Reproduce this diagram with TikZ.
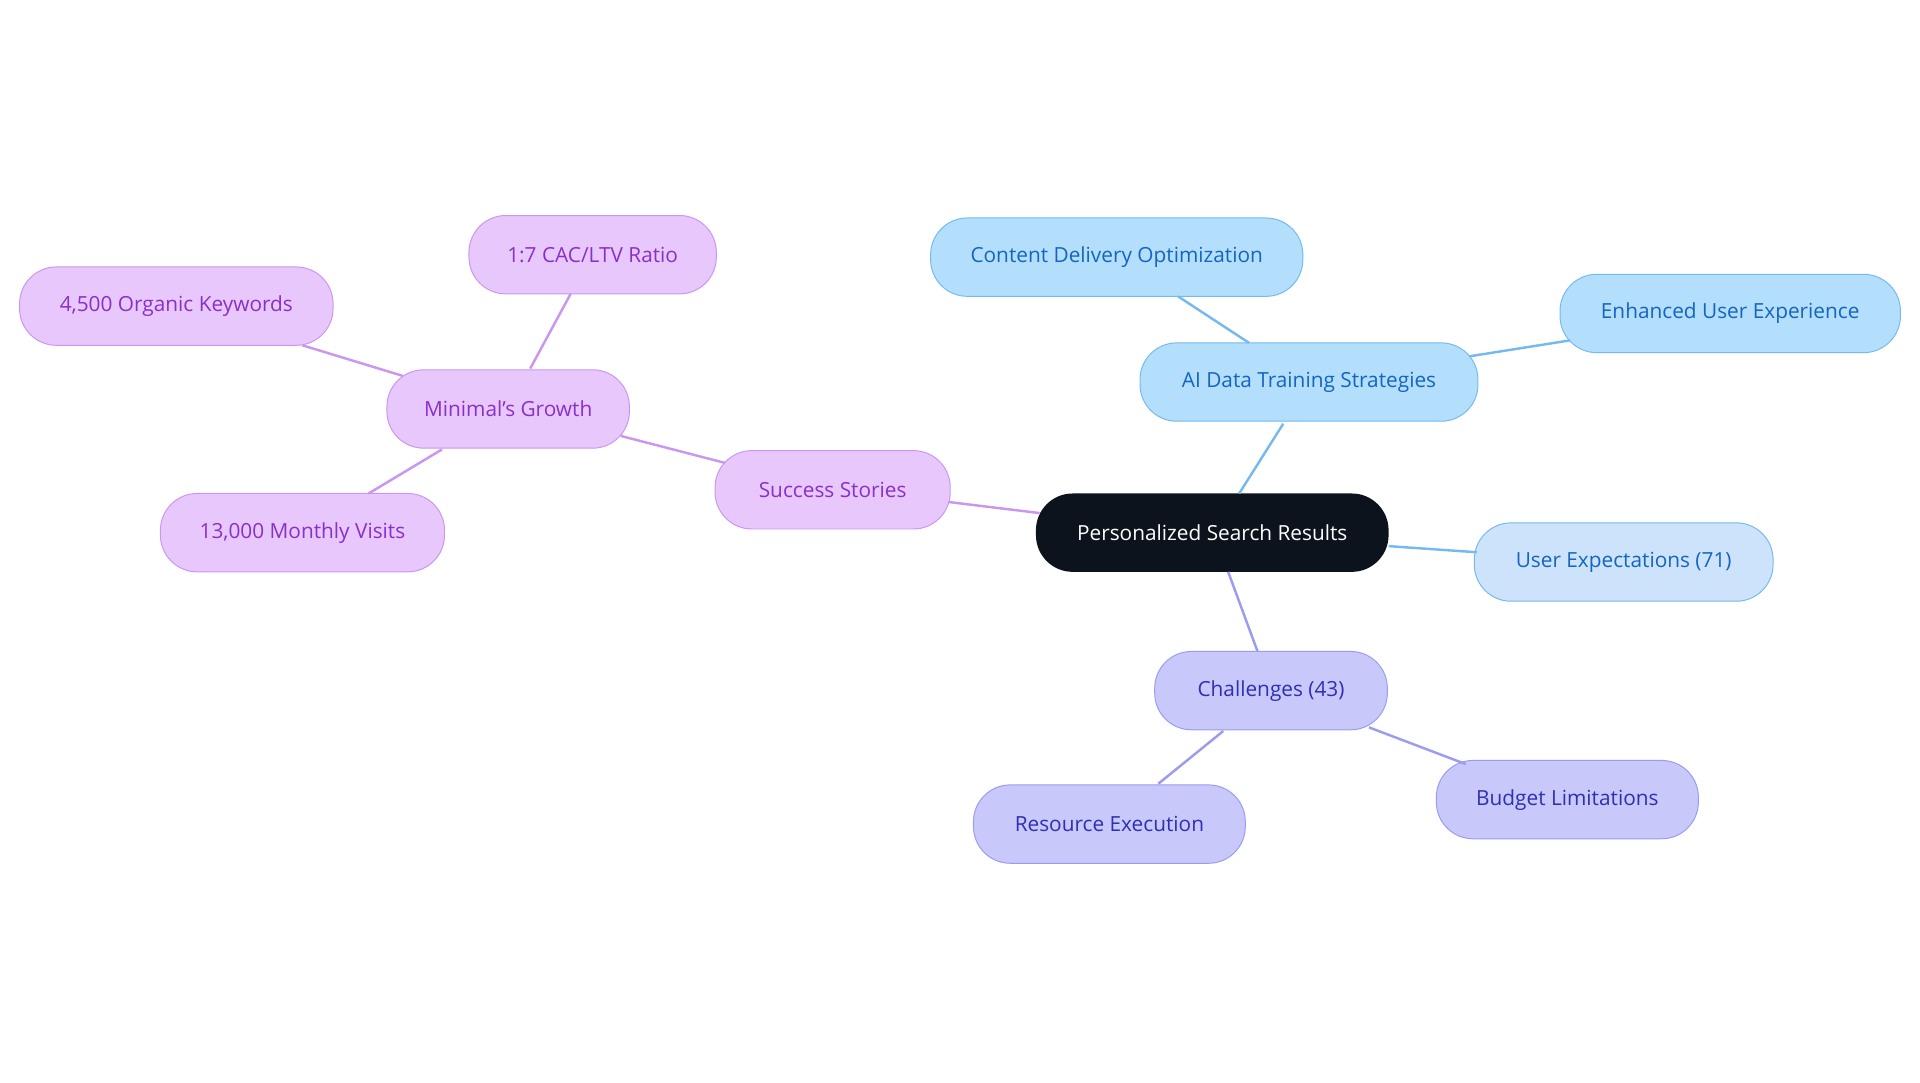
\documentclass[tikz,border=0pt]{standalone}
\usepackage{fontspec}
\setmainfont{Open Sans}
\definecolor{bfill}{HTML}{B3DFFD}\definecolor{bdraw}{HTML}{74BAF0}\definecolor{btext}{HTML}{1565C0}
\definecolor{lfill}{HTML}{CDE3FC}
\definecolor{cfill}{HTML}{C8C8FB}\definecolor{cdraw}{HTML}{9B9BF0}\definecolor{ctext}{HTML}{2F2FB5}
\definecolor{sfill}{HTML}{E8C8FC}\definecolor{sdraw}{HTML}{C996F0}\definecolor{stext}{HTML}{8A2FC9}
\definecolor{dark}{HTML}{0D131C}
\begin{document}
\begin{tikzpicture}[x=1pt,y=-1pt,
 box/.style={rounded corners=30pt,minimum height=64pt,font=\fontsize{17}{20}\selectfont,line width=0.8pt,inner sep=0pt},
 blue/.style={box,fill=bfill,draw=bdraw,text=btext},
 lblue/.style={box,fill=lfill,draw=bdraw,text=btext},
 viol/.style={box,fill=cfill,draw=cdraw,text=ctext},
 purp/.style={box,fill=sfill,draw=sdraw,text=stext},
 be/.style={draw=bdraw,line width=2pt},
 ce/.style={draw=cdraw,line width=2pt},
 se/.style={draw=sdraw,line width=2pt}]
\useasboundingbox (0,0) rectangle (1568,884);
\node[box,fill=dark,text=white,minimum width=288pt] (c) at (990,435) {Personalized Search Results};
\node[blue,minimum width=276pt] (ai) at (1069,312) {AI Data Training Strategies};
\node[blue,minimum width=304pt] (cd) at (912,210) {Content Delivery Optimization};
\node[blue,minimum width=278pt] (eu) at (1413,256) {Enhanced User Experience};
\node[lblue,minimum width=244pt] (ue) at (1326,459) {User Expectations (71)};
\node[viol,minimum width=190pt] (ch) at (1038,564) {Challenges (43)};
\node[viol,minimum width=222pt] (re) at (906,673) {Resource Execution};
\node[viol,minimum width=214pt] (bl) at (1280,653) {Budget Limitations};
\node[purp,minimum width=192pt] (ss) at (680,400) {Success Stories};
\node[purp,minimum width=198pt] (mg) at (415,334) {Minimal's Growth};
\node[purp,minimum width=202pt] (cac) at (484,208) {1:7 CAC/LTV Ratio};
\node[purp,minimum width=256pt] (ok) at (144,250) {4,500 Organic Keywords};
\node[purp,minimum width=232pt] (mv) at (247,435) {13,000 Monthly Visits};
\begin{scope}[on background layer/.style={}]
\end{scope}
\draw[be] (1012,403) -- (1048,346);
\draw[be] (1020,280) -- (962,242);
\draw[be] (1200,291) -- (1282,278);
\draw[be] (1134,446) -- (1206,451);
\draw[ce] (1003,467) -- (1027,532);
\draw[ce] (999,597) -- (946,640);
\draw[ce] (1118,594) -- (1197,624);
\draw[se] (849,419) -- (775,410);
\draw[se] (592,378) -- (507,356);
\draw[se] (433,301) -- (466,240);
\draw[se] (329,307) -- (247,282);
\draw[se] (361,367) -- (301,403);
\end{tikzpicture}
\end{document}
